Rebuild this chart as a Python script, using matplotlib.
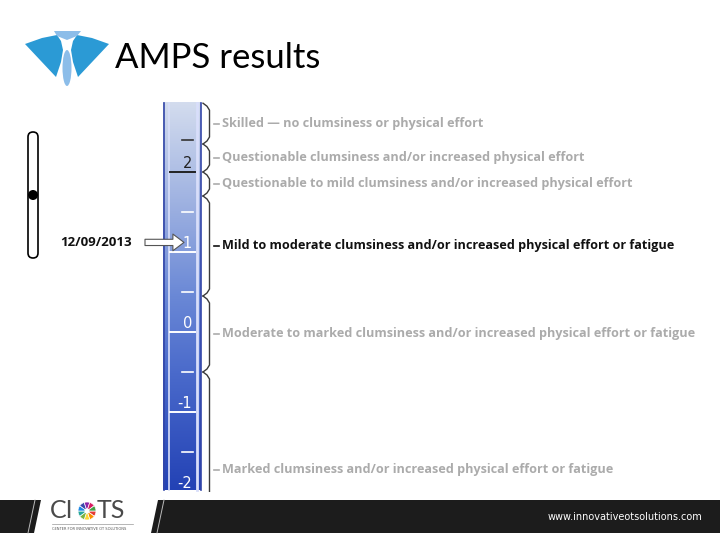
import matplotlib
matplotlib.use('Agg')
import matplotlib.pyplot as plt
import numpy as np
from matplotlib.patches import Polygon, FancyBboxPatch, Circle, Wedge, Rectangle, Ellipse
from matplotlib.colors import LinearSegmentedColormap

# ---------------- data ----------------
title = "AMPS results"
measure_date = "12/09/2013"
measure_value = 1.12
scale_top = 2.86
scale_bottom = -1.98
major_ticks = [2, 1, 0, -1, -2]
major_labels = ["2", "1", "0", "-1", "-2"]
minor_ticks = [2.4, 1.5, 0.5, -0.5, -1.5]
band_edges = [2.86, 2.35, 2.0, 1.7, 0.45, -0.5, -2.95]
band_labels = [
    "Skilled \u2014 no clumsiness or physical effort",
    "Questionable clumsiness and/or increased physical effort",
    "Questionable to mild clumsiness and/or increased physical effort",
    "Mild to moderate clumsiness and/or increased physical effort or fatigue",
    "Moderate to marked clumsiness and/or increased physical effort or fatigue",
    "Marked clumsiness and/or increased physical effort or fatigue",
]
highlight_band = 3
footer_url = "www.innovativeotsolutions.com"
brand = ["CI", "TS"]
brand_sub = "CENTER FOR INNOVATIVE OT SOLUTIONS"
flower_colors = ["#e53935", "#fb8c00", "#fdd835", "#7cb342", "#26a69a",
                 "#1e88e5", "#3949ab", "#8e24aa", "#d81b60", "#43a047"]

# ---------------- figure ----------------
fig = plt.figure(figsize=(7.2, 5.4), dpi=100)
fig.patch.set_facecolor('white')
bg = fig.add_axes([0, 0, 1, 1])
bg.set_xlim(0, 720)
bg.set_ylim(540, 0)
bg.axis('off')

ax = fig.add_axes([0, 0, 1, 1])
ax.set_xlim(0, 720)
ax.set_ylim(-2.6, 4.15)
ax.axis('off')
px = (4.15 + 2.6) / 540.0  # logits per pixel

# ---------------- header ----------------
bg.add_patch(Polygon([(25, 44), (42, 38), (57, 35), (61, 41), (63, 50), (61, 62), (56, 77)],
                     closed=True, fc='#2b9ad5', ec='none'))
bg.add_patch(Polygon([(109, 44), (92, 38), (77, 35), (73, 41), (71, 50), (73, 62), (78, 77)],
                     closed=True, fc='#2b9ad5', ec='none'))
bg.add_patch(Polygon([(54, 31), (81, 31), (77, 36), (67, 40), (57, 36)],
                     closed=True, fc='#8cbde9', ec='none'))
bg.add_patch(Ellipse((67, 68), 9, 36, fc='#8cbde9', ec='none'))
bg.text(115, 58, title, fontsize=25, family='Lato', va='center', ha='left', color='black')

# ---------------- slider ----------------
bg.add_patch(FancyBboxPatch((28, 132), 10, 126, boxstyle="round,pad=0,rounding_size=5",
                            fc='white', ec='black', lw=1.2))
bg.add_patch(Circle((33, 195), 5, fc='black', ec='none'))

# ---------------- scale bar ----------------
cmap = LinearSegmentedColormap.from_list(
    'bar', [(0.0, '#2342b5'), (0.3, '#4a6acb'), (0.5, '#6a88d6'),
            (0.72, '#9aaee0'), (1.0, '#d3dcee')])
grad = np.linspace(0, 1, 256).reshape(-1, 1)
ax.imshow(grad, cmap=cmap, origin='lower', aspect='auto',
          extent=[163, 201, scale_bottom, scale_top], zorder=1)
ax.plot([163.5, 163.5], [scale_bottom, scale_top], color='#3346a8', lw=1.2, zorder=2)
ax.plot([201, 201], [scale_bottom, scale_top], color='#3346a8', lw=1.2, zorder=2)
ax.plot([168.5, 168.5], [scale_bottom, scale_top], color='#d8defa', lw=1.2, zorder=2)
ax.plot([196.5, 196.5], [scale_bottom, scale_top], color='#d8defa', lw=2.0, zorder=2)

for v, lab in zip(major_ticks, major_labels):
    c = '#222222' if v >= 2 else 'white'
    ax.plot([170, 195], [v, v], color=c, lw=1.4, zorder=3)
    ax.text(192, v + 9 * px, lab, ha='right', va='center', fontsize=10.5,
            family='DejaVu Sans', color=c, zorder=3)
for v in minor_ticks:
    c = '#333333' if v > 2 else 'white'
    ax.plot([182, 193], [v, v], color=c, lw=1.2, zorder=3)

# ---------------- braces & labels ----------------
clip = Rectangle((150, scale_bottom - 2 * px), 100, scale_top - scale_bottom + 4 * px,
                 transform=ax.transData, fc='none', ec='none')
ax.add_patch(clip)
for i, lab in enumerate(band_labels):
    top, bot = band_edges[i], band_edges[i + 1]
    xs = [203, 207, 209.5, 209.5, 207, 203]
    ys = [top, top - 3 * px, top - 7 * px, bot + 7 * px, bot + 3 * px, bot]
    ln, = ax.plot(xs, ys, color='#3a3a3a', lw=1.0, zorder=3, solid_joinstyle='round')
    ln.set_clip_path(clip)
    mid = (top + bot) / 2
    col = '#111111' if i == highlight_band else '#ababab'
    ax.plot([214, 219], [mid, mid], color=col, lw=1.2, zorder=3)
    ax.text(222, mid, lab, ha='left', va='center', fontsize=9.1, family='Open Sans',
            fontweight='bold', color=col, zorder=3)

# ---------------- measurement ----------------
ax.text(60, measure_value, measure_date, ha='left', va='center', fontsize=9.5,
        family='Open Sans', fontweight='bold', color='#111111')
ax.annotate('', xy=(184, measure_value), xytext=(145, measure_value),
            arrowprops=dict(arrowstyle='simple,head_length=0.8,head_width=1.2,tail_width=0.45',
                            fc='white', ec='#555555', lw=0.8, mutation_scale=10,
                            shrinkA=0, shrinkB=0), zorder=4)

# ---------------- footer ----------------
bg.add_patch(Polygon([(0, 500), (41, 500), (34, 533), (0, 533)], closed=True,
                     fc='#1c1c1c', ec='none'))
bg.add_patch(Polygon([(158, 500), (720, 500), (720, 533), (151, 533)], closed=True,
                     fc='#1c1c1c', ec='none'))
bg.plot([35, 28], [500, 533], color='#bbbbbb', lw=0.7)
bg.plot([164, 157], [500, 533], color='#bbbbbb', lw=0.7)
bg.text(702, 517, footer_url, ha='right', va='center', fontsize=7, color='white',
        family='DejaVu Sans')
bg.text(50, 511, brand[0], ha='left', va='center', fontsize=18, family='Lato',
        color='#4a4a4a')
bg.text(97, 511, brand[1], ha='left', va='center', fontsize=18, family='Lato',
        color='#4a4a4a')
n = len(flower_colors)
for k, c in enumerate(flower_colors):
    bg.add_patch(Wedge((87, 511), 9, 360 * k / n, 360 * (k + 1) / n, fc=c, ec='white', lw=0.5))
bg.add_patch(Circle((87, 511), 2.5, fc='white', ec='none'))
bg.plot([52, 133], [524, 524], color='#999999', lw=0.5)
bg.text(52, 528.5, brand_sub, ha='left', va='center', fontsize=2.6, color='#555555')

fig.savefig('out.png', dpi=100)
